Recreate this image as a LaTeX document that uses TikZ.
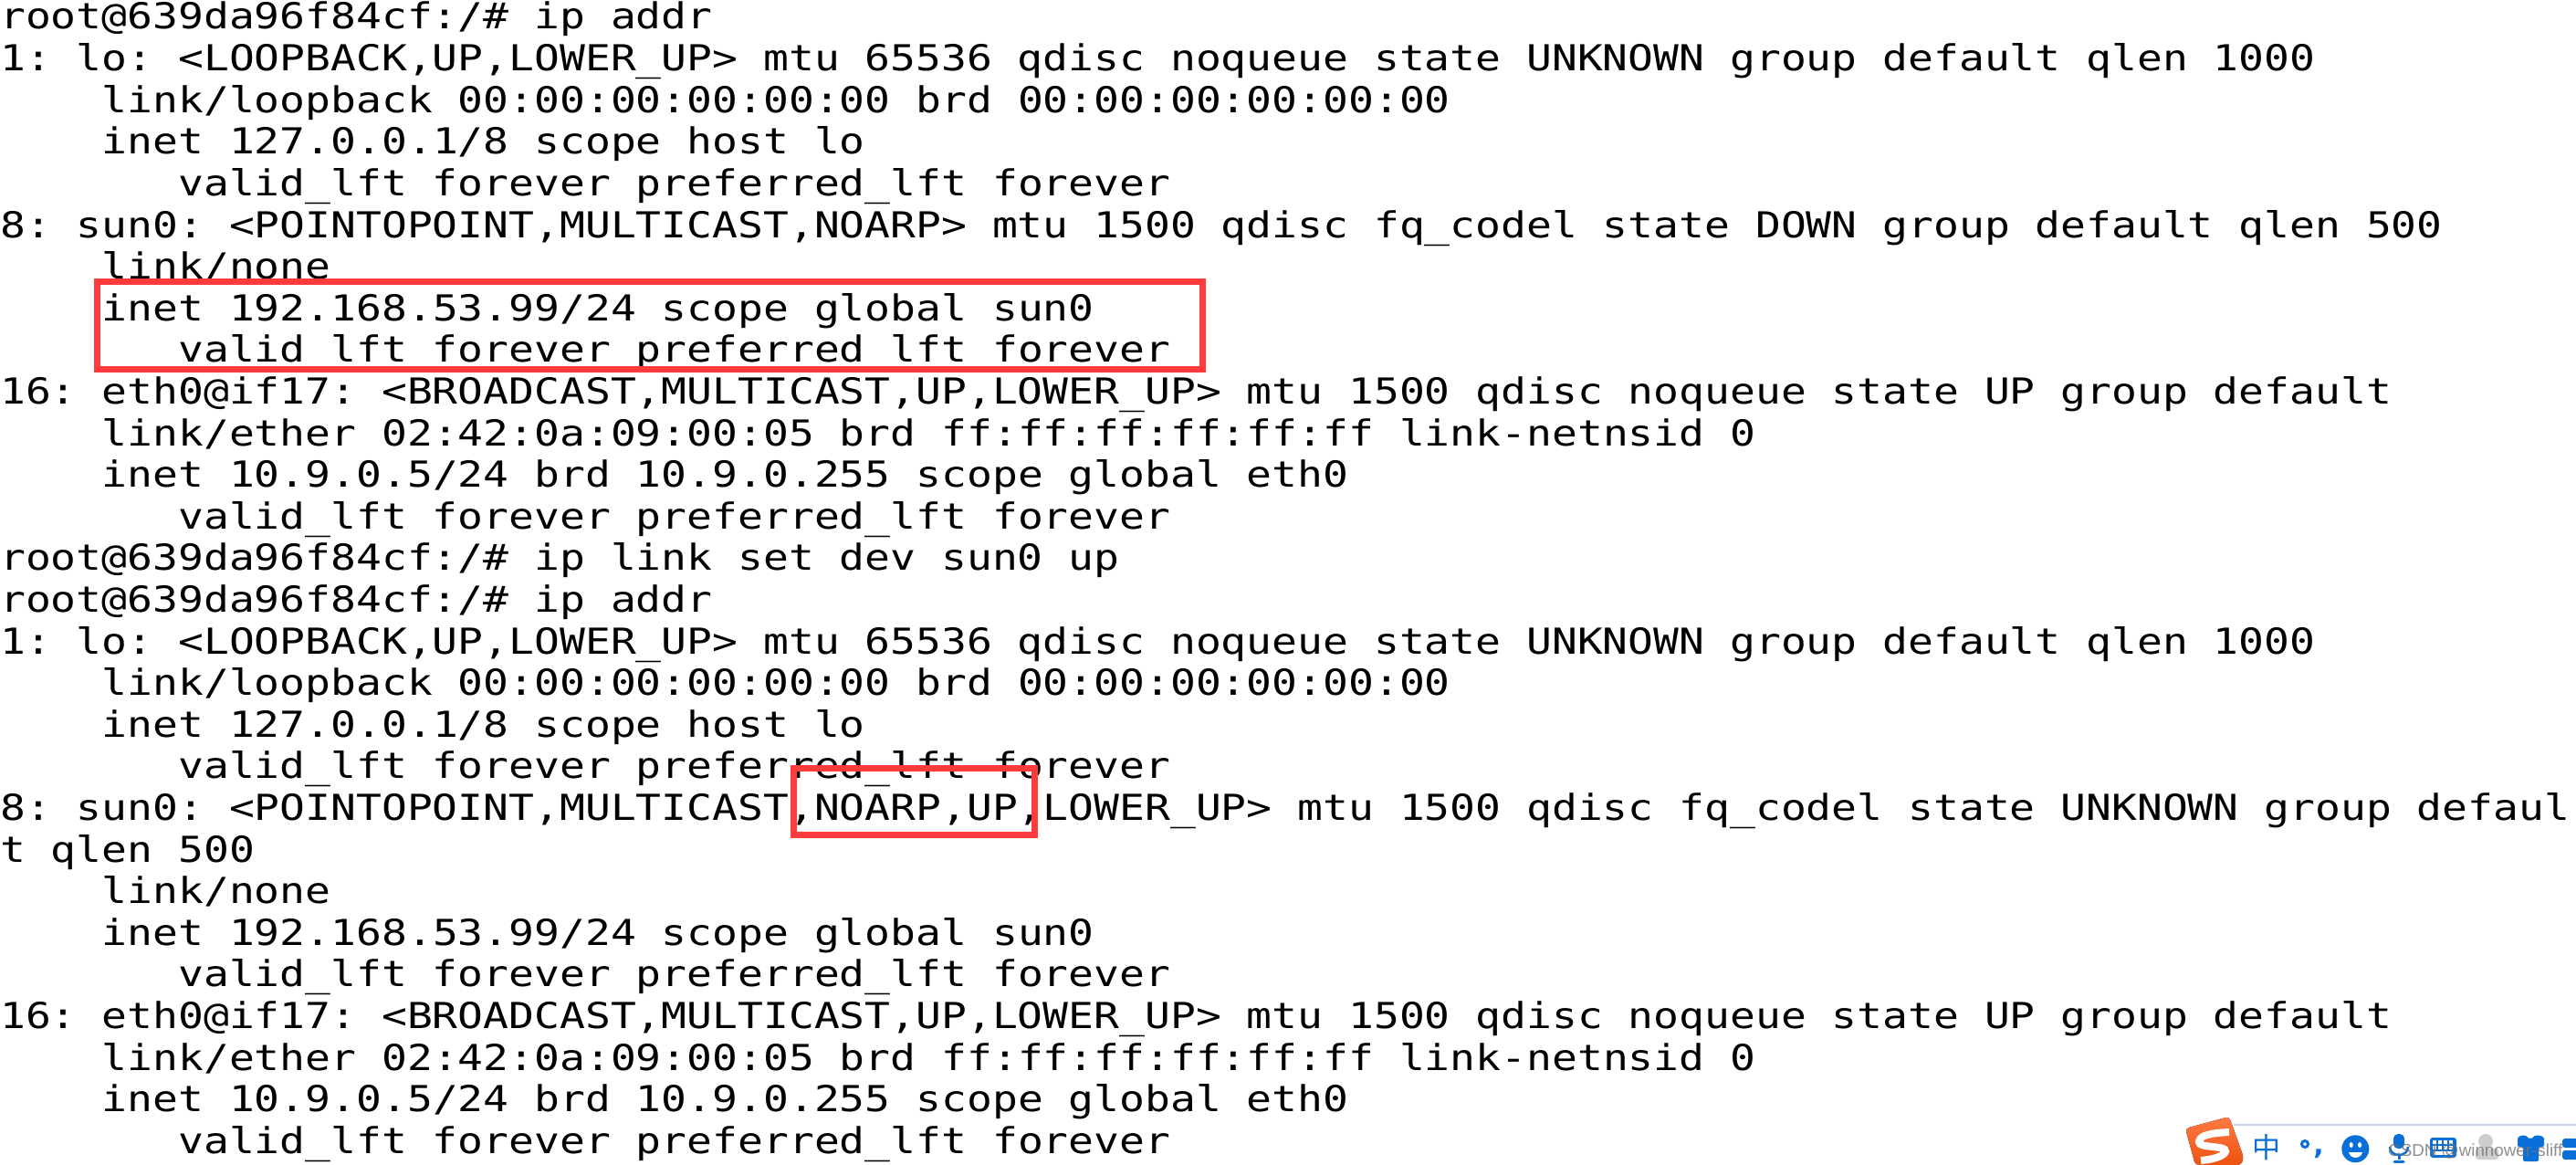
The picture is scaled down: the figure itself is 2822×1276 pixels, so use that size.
\documentclass[tikz,border=0pt]{standalone}
\usepackage{fontspec}
\newfontfamily\termfont[FakeStretch=1.181]{DejaVu Sans Mono}
\newfontfamily\cjkfont[BoldFont=*]{Noto Sans CJK SC}
\newfontfamily\markfont{Liberation Sans}
\newfontfamily\punctfont{DejaVu Sans Bold}
\definecolor{boxred}{HTML}{FF3B3B}
\definecolor{imeblue}{HTML}{0A6FD8}
\definecolor{imegray}{HTML}{CDCDCD}
\definecolor{imeline}{HTML}{C6D6E8}
\definecolor{logotop}{HTML}{FF7B45}
\definecolor{logobot}{HTML}{EE5210}
\frenchspacing
\tikzset{
  termline/.style={anchor=base west, inner sep=0pt, text=black, font=\termfont\fontsize{39.2}{45.6}\selectfont},
  redbox/.style={draw=boxred, line width=7pt},
  imefill/.style={fill=imeblue, draw=none},
}
\begin{document}
\begin{tikzpicture}[x=1pt, y=-1pt]
  \useasboundingbox (0,0) rectangle (2822,1276);
  \fill[white] (0,0) rectangle (2822,1276);
  % first ip addr
  \node[termline] (row0)  at (0,32)      {root@639da96f84cf:/\# ip addr};
  \node[termline] (row1)  at (0,77.6)    {1: lo: <LOOPBACK,UP,LOWER\_UP> mtu 65536 qdisc noqueue state UNKNOWN group default qlen 1000};
  \node[termline] (row2)  at (111.5,123.2) {link/loopback 00:00:00:00:00:00 brd 00:00:00:00:00:00};
  \node[termline] (row3)  at (111.5,168.8) {inet 127.0.0.1/8 scope host lo};
  \node[termline] (row4)  at (195.1,214.4) {valid\_lft forever preferred\_lft forever};
  \node[termline] (row5)  at (0,260)     {8: sun0: <POINTOPOINT,MULTICAST,NOARP> mtu 1500 qdisc fq\_codel state DOWN group default qlen 500};
  \node[termline] (row6)  at (111.5,305.6) {link/none};
  \node[termline] (row7)  at (111.5,351.2) {inet 192.168.53.99/24 scope global sun0};
  \node[termline] (row8)  at (195.1,396.8) {valid\_lft forever preferred\_lft forever};
  \node[termline] (row9)  at (0,442.4)   {16: eth0@if17: <BROADCAST,MULTICAST,UP,LOWER\_UP> mtu 1500 qdisc noqueue state UP group default};
  \node[termline] (row10) at (111.5,488) {link/ether 02:42:0a:09:00:05 brd ff:ff:ff:ff:ff:ff link-netnsid 0};
  \node[termline] (row11) at (111.5,533.6) {inet 10.9.0.5/24 brd 10.9.0.255 scope global eth0};
  \node[termline] (row12) at (195.1,579.2) {valid\_lft forever preferred\_lft forever};
  \node[termline] (row13) at (0,624.8)   {root@639da96f84cf:/\# ip link set dev sun0 up};
  % second ip addr
  \node[termline] (row14) at (0,670.4)   {root@639da96f84cf:/\# ip addr};
  \node[termline] (row15) at (0,716)     {1: lo: <LOOPBACK,UP,LOWER\_UP> mtu 65536 qdisc noqueue state UNKNOWN group default qlen 1000};
  \node[termline] (row16) at (111.5,761.6) {link/loopback 00:00:00:00:00:00 brd 00:00:00:00:00:00};
  \node[termline] (row17) at (111.5,807.2) {inet 127.0.0.1/8 scope host lo};
  \node[termline] (row18) at (195.1,852.8) {valid\_lft forever preferred\_lft forever};
  \node[termline] (row19) at (0,898.4)   {8: sun0: <POINTOPOINT,MULTICAST,NOARP,UP,LOWER\_UP> mtu 1500 qdisc fq\_codel state UNKNOWN group defaul};
  \node[termline] (row20) at (0,944)     {t qlen 500};
  \node[termline] (row21) at (111.5,989.6) {link/none};
  \node[termline] (row22) at (111.5,1035.2) {inet 192.168.53.99/24 scope global sun0};
  \node[termline] (row23) at (195.1,1080.8) {valid\_lft forever preferred\_lft forever};
  \node[termline] (row24) at (0,1126.4)  {16: eth0@if17: <BROADCAST,MULTICAST,UP,LOWER\_UP> mtu 1500 qdisc noqueue state UP group default};
  \node[termline] (row25) at (111.5,1172) {link/ether 02:42:0a:09:00:05 brd ff:ff:ff:ff:ff:ff link-netnsid 0};
  \node[termline] (row26) at (111.5,1217.6) {inet 10.9.0.5/24 brd 10.9.0.255 scope global eth0};
  \node[termline] (row27) at (195.1,1263.2) {valid\_lft forever preferred\_lft forever};
  % red marks
  \draw[redbox] (106.5,308.5) rectangle (1317.5,404.5);
  \draw[redbox] (869.5,841.5) rectangle (1133.5,914.5);
  % input method bar
  \draw[imeline, line width=2pt] (2447,1232) -- (2822,1232);
  \fill[top color=logotop, bottom color=logobot, rounded corners=4pt]
    (2394,1236) -- (2442,1223) -- (2458,1268) -- (2455,1276) -- (2405,1276) -- cycle;
  \draw[white, line width=8pt]
    (2442,1240) .. controls (2420,1241) and (2409,1244) .. (2409,1251)
    .. controls (2409,1258) and (2439,1254) .. (2438,1261)
    .. controls (2437,1266) and (2425,1270) .. (2411,1271);
  \node[inner sep=0pt, text=imeblue, font=\cjkfont\bfseries\fontsize{31}{31}\selectfont] (imezh) at (2483,1256.5) {中};
  \draw[imeblue, line width=3pt] (2525,1253) circle [radius=3.5];
  \node[inner sep=0pt, anchor=base, text=imeblue, font=\punctfont\fontsize{30}{30}\selectfont] (imecomma) at (2540,1264) {,};
  % face
  \fill[imeblue] (2580.3,1258.3) circle [radius=15];
  \fill[white] (2575.7,1254) ellipse [x radius=2, y radius=3];
  \fill[white] (2585,1254) ellipse [x radius=2, y radius=3];
  \fill[white] (2573,1262) .. controls (2575,1270) and (2586,1270) .. (2588,1262) -- cycle;
  % microphone
  \fill[imeblue, rounded corners=5pt] (2622,1242) rectangle (2634,1258);
  \draw[imeblue, line width=2.5pt] (2618,1256) .. controls (2618,1268) and (2638,1268) .. (2638,1256);
  \draw[imeblue, line width=3pt] (2628,1265) -- (2628,1270);
  \draw[imeblue, line width=3pt, line cap=round] (2623,1272) -- (2633,1272);
  % keyboard
  \fill[imeblue, rounded corners=3pt] (2662,1246) rectangle (2691,1268);
  \foreach \keyx in {2665,2671,2677,2683}
    \foreach \keyy in {1249,1255}
      \fill[white] (\keyx,\keyy) rectangle ++(4,4);
  \fill[white] (2666,1261) rectangle (2687,1265);
  % person
  \fill[imegray] (2723,1250) circle [radius=8];
  \fill[imegray, rounded corners=3pt] (2712,1258) rectangle (2737,1270);
  % shirt
  \fill[imeblue, rounded corners=2pt]
    (2758,1245) -- (2766,1243) -- (2772,1248) -- (2778,1243) -- (2787,1245)
    -- (2787,1256) -- (2781,1256) -- (2781,1272) -- (2764,1272) -- (2764,1256) -- (2758,1256) -- cycle;
  % last icon
  \fill[imeblue, rounded corners=3pt] (2807,1247) rectangle (2826,1257);
  \fill[imeblue, rounded corners=3pt] (2807,1260) rectangle (2826,1270);
  % watermark
  \node[anchor=base west, inner sep=0pt, text=black!55, text opacity=0.8, font=\markfont\fontsize{18.8}{18.8}\selectfont] (csdnmark) at (2616,1266) {CSDN @winnower-sliff};
\end{tikzpicture}
\end{document}
